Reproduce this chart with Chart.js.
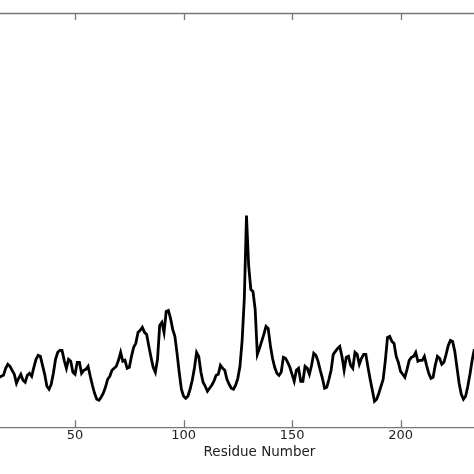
<!DOCTYPE html>
<html>
<head>
    <title>Residue fluctuation</title>
    <script src="https://cdn.jsdelivr.net/npm/chart.js"></script>
    <style>
        html, body { margin: 0; background: #fff; overflow: hidden; }
        /* the plotted axis runs past the right edge of the window, as in the cropped figure */
        #wrap { width: 519px; height: 474px; }
    </style>
</head>
<body>
    <div id="wrap"><canvas id="chart"></canvas></div>
    <script>
        // first residue shown, then one value per residue
        const firstResidue = 15;
        const rmsf = [
            0.50, 0.51, 0.52, 0.59, 0.63, 0.61, 0.57, 0.53, 0.44, 0.49,
            0.53, 0.47, 0.45, 0.52, 0.54, 0.51, 0.60, 0.68, 0.72, 0.71,
            0.62, 0.53, 0.41, 0.38, 0.43, 0.54, 0.68, 0.75, 0.77, 0.77,
            0.67, 0.59, 0.68, 0.66, 0.55, 0.53, 0.65, 0.65, 0.54, 0.57,
            0.58, 0.61, 0.51, 0.42, 0.34, 0.28, 0.27, 0.30, 0.34, 0.40,
            0.48, 0.51, 0.57, 0.59, 0.61, 0.67, 0.75, 0.66, 0.67, 0.59,
            0.60, 0.71, 0.80, 0.84, 0.95, 0.97, 1.00, 0.95, 0.93, 0.81,
            0.70, 0.60, 0.55, 0.68, 1.02, 1.05, 0.95, 1.16, 1.17, 1.09,
            0.98, 0.91, 0.74, 0.55, 0.38, 0.31, 0.29, 0.31, 0.38, 0.47,
            0.59, 0.75, 0.71, 0.55, 0.45, 0.41, 0.36, 0.39, 0.42, 0.46,
            0.52, 0.53, 0.62, 0.59, 0.57, 0.48, 0.43, 0.39, 0.38, 0.42,
            0.49, 0.61, 0.87, 1.29, 2.12, 1.62, 1.38, 1.36, 1.18, 0.73,
            0.79, 0.86, 0.93, 1.01, 0.99, 0.82, 0.69, 0.60, 0.54, 0.52,
            0.55, 0.70, 0.69, 0.65, 0.60, 0.53, 0.46, 0.57, 0.59, 0.46,
            0.46, 0.61, 0.59, 0.53, 0.62, 0.74, 0.72, 0.66, 0.57, 0.49,
            0.39, 0.40, 0.48, 0.57, 0.73, 0.76, 0.79, 0.81, 0.71, 0.57,
            0.70, 0.71, 0.62, 0.59, 0.75, 0.73, 0.63, 0.69, 0.73, 0.73,
            0.60, 0.48, 0.37, 0.26, 0.28, 0.34, 0.41, 0.48, 0.67, 0.90,
            0.91, 0.86, 0.84, 0.71, 0.65, 0.56, 0.53, 0.50, 0.58, 0.67,
            0.70, 0.71, 0.75, 0.66, 0.67, 0.67, 0.71, 0.62, 0.54, 0.49,
            0.50, 0.62, 0.71, 0.69, 0.63, 0.65, 0.73, 0.82, 0.87, 0.86,
            0.76, 0.60, 0.44, 0.33, 0.28, 0.31, 0.41, 0.53, 0.67, 0.78
        ];
        const xTicks = [50, 100, 150, 200];
        const xLabel = 'Residue Number';

        const points = rmsf.map((v, i) => ({ x: firstResidue + i, y: v }));

        // matplotlib-like frame: top/bottom spines with inward ticks
        const framePlugin = {
            id: 'frame',
            afterDraw(chart) {
                const ctx = chart.ctx;
                const area = chart.chartArea;
                const xs = chart.scales.x;
                ctx.save();
                ctx.strokeStyle = '#777';
                ctx.lineWidth = 1.3;
                ctx.beginPath();
                ctx.moveTo(area.left, area.top + 0.5);
                ctx.lineTo(area.right, area.top + 0.5);
                ctx.moveTo(area.left, area.bottom + 0.5);
                ctx.lineTo(area.right, area.bottom + 0.5);
                xTicks.forEach(t => {
                    const px = Math.round(xs.getPixelForValue(t)) + 0.5;
                    ctx.moveTo(px, area.top);
                    ctx.lineTo(px, area.top + 7);
                    ctx.moveTo(px, area.bottom);
                    ctx.lineTo(px, area.bottom - 7);
                });
                ctx.stroke();
                ctx.restore();
            }
        };

        new Chart(document.getElementById('chart'), {
            type: 'line',
            data: {
                datasets: [{
                    data: points,
                    borderColor: '#000',
                    borderWidth: 2.8,
                    pointRadius: 0,
                    tension: 0,
                    fill: false
                }]
            },
            options: {
                responsive: true,
                maintainAspectRatio: false,
                animation: false,
                layout: { padding: { top: 13, left: 0, right: 0, bottom: 9 } },
                plugins: {
                    legend: { display: false },
                    tooltip: { enabled: false }
                },
                scales: {
                    x: {
                        type: 'linear',
                        min: 15.4,
                        max: 254.6,
                        afterBuildTicks: axis => {
                            axis.ticks = xTicks.map(v => ({ value: v }));
                        },
                        grid: { display: false, drawTicks: false },
                        border: { display: false },
                        ticks: {
                            padding: 1,
                            maxRotation: 0,
                            color: '#222',
                            font: { family: 'DejaVu Sans', size: 13 }
                        },
                        title: {
                            display: true,
                            text: xLabel,
                            color: '#222',
                            padding: { top: 0, bottom: 4 },
                            font: { family: 'DejaVu Sans', size: 13.5 }
                        }
                    },
                    y: {
                        display: false,
                        min: 0,
                        max: 4.15
                    }
                }
            },
            plugins: [framePlugin]
        });
    </script>
</body>
</html>
